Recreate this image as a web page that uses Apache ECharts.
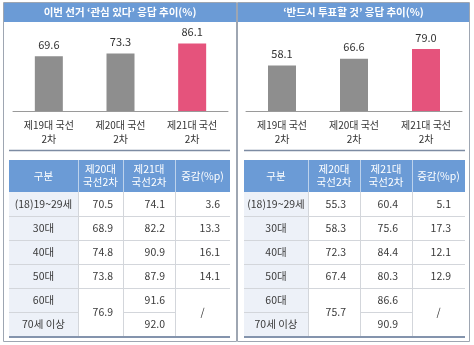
<!DOCTYPE html>
<html>
<head>
<meta charset="utf-8">
<script src="https://cdn.jsdelivr.net/npm/echarts@6/dist/echarts.min.js"></script>
<style>
  html, body { margin: 0; padding: 0; background: #fff; }
  #chart { width: 474px; height: 345px; }
</style>
</head>
<body>
<div id="chart"></div>
<script>
// Survey rounds shown on the bar charts
const rounds = ['제19대 국선\n2차', '제20대 국선\n2차', '제21대 국선\n2차'];
const interestRate = [69.6, 73.3, 86.1];   // '관심 있다' (%)
const mustVoteRate = [58.1, 66.6, 79.0];   // '반드시 투표할 것' (%)

const panelTitles = ['이번 선거 ‘관심 있다’ 응답 추이(%)', '‘반드시 투표할 것’ 응답 추이(%)'];

// Age-group tables (60대 / 70세 이상 share one 제20대 value and one 증감 cell)
const tableHeaders = ['구분', '제20대\n국선2차', '제21대\n국선2차', '증감(%p)'];
const ageGroups = ['(18)19~29세', '30대', '40대', '50대', '60대', '70세 이상'];
const interest20 = [70.5, 68.9, 74.8, 73.8, 76.9];
const interest21 = [74.1, 82.2, 90.9, 87.9, 91.6, 92.0];
const interestDiff = [3.6, 13.3, 16.1, 14.1, '/'];
const vote20 = [55.3, 58.3, 72.3, 67.4, 75.7];
const vote21 = [60.4, 75.6, 84.4, 80.3, 86.6, 90.9];
const voteDiff = [5.1, 17.3, 12.1, 12.9, '/'];

const FONT = '"Noto Sans CJK KR", "Noto Sans", sans-serif';
const BLUE = '#6b9bd6';
const GRAY_BAR = '#8e8e8e';
const PINK_BAR = '#e5537c';

const fmt = v => (typeof v === 'number' ? v.toFixed(1) : v);

function barColor(p) {
  return p.dataIndex === rounds.length - 1 ? PINK_BAR : GRAY_BAR;
}

// Builds frame, title bar and age table for one panel
function panelGraphics(px0, px1, title, cols, col20, col21, diff, pad) {
  const els = [];
  els.push({ type: 'rect', shape: { x: px0 + 0.5, y: 2.5, width: px1 - px0 - 1, height: 339 },
    style: { fill: '#fff', stroke: '#9ea6b2', lineWidth: 1 }, z: -10 });
  els.push({ type: 'rect', shape: { x: px0 + 1, y: 3, width: px1 - px0 - 2, height: 19 },
    style: { fill: BLUE }, z: 1 });
  els.push({ type: 'text', x: (px0 + px1) / 2, y: 12.5,
    style: { text: title, fill: '#fff', font: 'bold 10.5px ' + FONT, align: 'center', verticalAlign: 'middle' }, z: 2 });
  // separator above the table
  els.push({ type: 'line', shape: { x1: cols[0], y1: 150.5, x2: cols[4], y2: 150.5 },
    style: { stroke: '#7d8ca3', lineWidth: 1.5 }, z: 2 });

  const rows = [160, 192, 216, 240, 264, 288, 312, 336];
  const x0 = cols[0], x4 = cols[4];
  // header
  els.push({ type: 'rect', shape: { x: x0, y: rows[0], width: x4 - x0, height: rows[1] - rows[0] },
    style: { fill: BLUE }, z: 1 });
  els.push({ type: 'rect', shape: { x: x0, y: rows[1], width: cols[1] - x0, height: rows[7] - rows[1] },
    style: { fill: '#edf1f8' }, z: 1 });
  for (let c = 1; c < 4; c++) {
    els.push({ type: 'line', shape: { x1: cols[c] + 0.5, y1: rows[0], x2: cols[c] + 0.5, y2: rows[1] },
      style: { stroke: 'rgba(255,255,255,0.55)', lineWidth: 1 }, z: 2 });
    els.push({ type: 'line', shape: { x1: cols[c] + 0.5, y1: rows[1], x2: cols[c] + 0.5, y2: rows[7] },
      style: { stroke: '#d3d6db', lineWidth: 1 }, z: 2 });
  }
  for (let r = 2; r <= 5; r++) {
    els.push({ type: 'line', shape: { x1: x0, y1: rows[r] + 0.5, x2: x4, y2: rows[r] + 0.5 },
      style: { stroke: '#d3d6db', lineWidth: 1 }, z: 2 });
  }
  // split line between 60대 and 70세 이상 only where cells are not merged
  [[0, 1], [2, 3]].forEach(([a, b]) => {
    els.push({ type: 'line', shape: { x1: cols[a], y1: rows[6] + 0.5, x2: cols[b], y2: rows[6] + 0.5 },
      style: { stroke: '#d3d6db', lineWidth: 1 }, z: 2 });
  });
  els.push({ type: 'line', shape: { x1: x0, y1: rows[7] + 1, x2: x4, y2: rows[7] + 1 },
    style: { stroke: '#8494ad', lineWidth: 2 }, z: 3 });

  tableHeaders.forEach((h, c) => {
    els.push({ type: 'text', x: (cols[c] + cols[c + 1]) / 2, y: (rows[0] + rows[1]) / 2,
      style: { text: h, fill: '#fff', font: '10.5px ' + FONT, align: 'center', verticalAlign: 'middle', lineHeight: 13 }, z: 3 });
  });

  const cellText = (x, y, t, align) => ({ type: 'text', x, y,
    style: { text: t, fill: '#3a3a3a', font: '10.5px ' + FONT, align, verticalAlign: 'middle' }, z: 3 });

  ageGroups.forEach((g, r) => {
    const yc = (rows[r + 1] + rows[r + 2]) / 2;
    els.push(cellText((cols[0] + cols[1]) / 2, yc, g, 'center'));
    els.push(cellText(cols[3] - pad, yc, fmt(col21[r]), 'right'));
  });
  col20.forEach((v, r) => {
    const merged = r === 4;
    const yc = merged ? rows[6] : (rows[r + 1] + rows[r + 2]) / 2;
    els.push(cellText(cols[2] - pad, yc, fmt(v), 'right'));
  });
  diff.forEach((v, r) => {
    const merged = r === 4;
    const yc = merged ? rows[6] : (rows[r + 1] + rows[r + 2]) / 2;
    els.push(merged ? cellText((cols[3] + cols[4]) / 2, yc, v, 'center')
                    : cellText(cols[4] - pad, yc, fmt(v), 'right'));
  });
  return els;
}

const chart = echarts.init(document.getElementById('chart'), null, { renderer: 'canvas' });

const grids = [
  { left: 13, top: 32.5, width: 215, height: 78.5 },
  { left: 246, top: 32.5, width: 216, height: 78.5 }
];

const xAxisCommon = {
  type: 'category',
  data: rounds,
  axisLine: { lineStyle: { color: '#9a9a9a', width: 1 } },
  axisTick: { show: false },
  axisLabel: { interval: 0, color: '#333', fontSize: 10, fontFamily: FONT, lineHeight: 14, margin: 7 }
};
const yAxisCommon = { type: 'value', min: 0, max: 100, show: false, splitLine: { show: false } };

const barCommon = {
  type: 'bar',
  barWidth: 28,
  itemStyle: { color: barColor },
  label: { show: true, position: 'top', distance: 6, color: '#333', fontSize: 11, fontFamily: FONT,
    formatter: p => p.value.toFixed(1) }
};

chart.setOption({
  animation: false,
  grid: grids,
  xAxis: [Object.assign({ gridIndex: 0 }, xAxisCommon), Object.assign({ gridIndex: 1 }, xAxisCommon)],
  yAxis: [Object.assign({ gridIndex: 0 }, yAxisCommon), Object.assign({ gridIndex: 1 }, yAxisCommon)],
  series: [
    Object.assign({ name: '관심 있다', xAxisIndex: 0, yAxisIndex: 0, data: interestRate }, barCommon),
    Object.assign({ name: '반드시 투표할 것', xAxisIndex: 1, yAxisIndex: 1, data: mustVoteRate }, barCommon)
  ],
  graphic: [].concat(
    panelGraphics(3, 237, panelTitles[0], [9, 78, 123, 175, 230], interest20, interest21, interestDiff, 10),
    panelGraphics(237, 470, panelTitles[1], [244, 308, 360, 412, 465], vote20, vote21, voteDiff, 14)
  )
});
</script>
</body>
</html>
